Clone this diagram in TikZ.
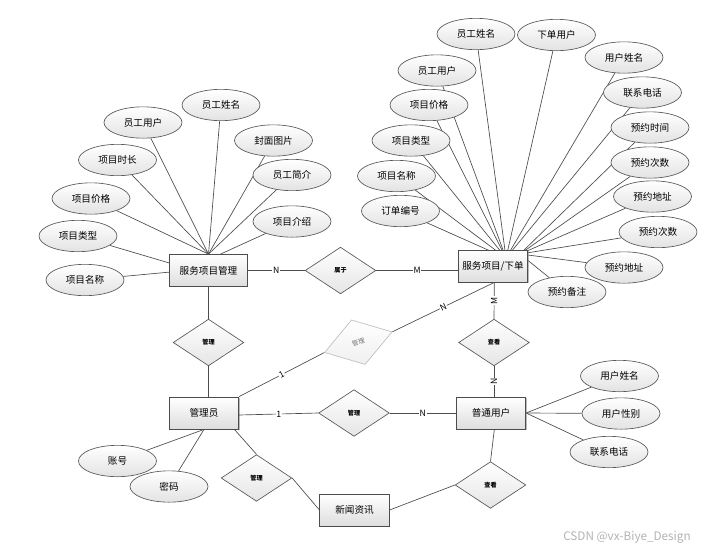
\documentclass[tikz,border=0pt]{standalone}
\usepackage{fontspec}
\setmainfont{Noto Sans CJK SC}
\usepackage{tikz}
\usetikzlibrary{shapes.geometric}
\usetikzlibrary{shadows}
\usetikzlibrary{backgrounds}
\tikzset{>=latex}
\tikzset{
    ent/.style={rectangle,draw=black!70,line width=0.6pt,top color=white,
    bottom color=black!13,minimum width=52pt,minimum height=24pt,inner sep=1pt,
    font=\fontsize{7.2}{8}\selectfont,
    drop shadow={shadow xshift=0.7pt,shadow yshift=-0.7pt,fill=black!45,opacity=0.6}},
    attr/.style={ellipse,draw=black!65,line width=0.5pt,top color=white,
    bottom color=black!11,minimum width=58.5pt,minimum height=23.5pt,inner sep=0pt,
    font=\fontsize{7.2}{8}\selectfont},
    rel/.style={diamond,draw=black!65,line width=0.5pt,top color=white,
    bottom color=black!10,minimum width=53pt,minimum height=35pt,inner sep=0pt,
    font=\fontsize{4.6}{5}\selectfont\bfseries},
    card/.style={fill=white,inner sep=0.5pt,font=\fontsize{6.5}{6.5}\selectfont},
    link/.style={draw=black!70,line width=0.5pt}
}

\begin{document}
\begin{tikzpicture}[x=0.75pt,y=-0.75pt]
    \useasboundingbox (0,0) rectangle (706,550);

    \coordinate (svc0) at (208.5, 270.5);
    \coordinate (ord0) at (493, 266);
    \coordinate (adm0) at (204, 413);
    \coordinate (usr0) at (491, 413);
    \coordinate (news0) at (354.5, 510);

    \node [ent,minimum width=58pt] (svc) at (svc0) {服务项目管理};
    \node [ent] (ord) at (ord0) {服务项目/下单};
    \node [ent] (adm) at (adm0) {管理员};
    \node [ent] (usr) at (usr0) {普通用户};
    \node [ent] (news) at (news0) {新闻资讯};

    \node [rel] (belong) at (340.5, 270.5) {属于};
    \node [rel] (svcadm) at (208.5, 342.5) {管理};
    \node [rel,draw=black!25,bottom color=black!6,text=black!55,
    font=\fontsize{4.8}{5}\selectfont,rotate=17] (ordadm) at (358.3, 342.2) {管理};
    \node [rel] (usradm) at (354, 413) {管理};
    \node [rel] (ordusr) at (494, 342.5) {查看};
    \node [rel] (newsadm) at (256.5, 478) {管理};
    \node [rel] (newsusr) at (490.5, 485) {查看};

    \node [attr] (sa1) at (221, 105) {员工姓名};
    \node [attr] (sa2) at (143, 122.5) {员工用户};
    \node [attr] (sa3) at (273.5, 140.5) {封面图片};
    \node [attr] (sa4) at (117.5, 160) {项目时长};
    \node [attr] (sa5) at (292, 175) {员工简介};
    \node [attr] (sa6) at (91, 198.5) {项目价格};
    \node [attr] (sa7) at (292, 221.5) {项目介绍};
    \node [attr] (sa8) at (78, 236) {项目类型};
    \node [attr] (sa9) at (85, 280) {项目名称};

    \node [attr] (oa1) at (476, 34) {员工姓名};
    \node [attr] (oa2) at (556.5, 35) {下单用户};
    \node [attr] (oa3) at (437, 70.5) {员工用户};
    \node [attr] (oa4) at (624, 57.5) {用户姓名};
    \node [attr] (oa5) at (429, 105) {项目价格};
    \node [attr] (oa6) at (642.5, 92.5) {联系电话};
    \node [attr] (oa7) at (411, 140.5) {项目类型};
    \node [attr] (oa8) at (650, 127.5) {预约时间};
    \node [attr] (oa9) at (396.5, 176) {项目名称};
    \node [attr] (oa10) at (650, 162.5) {预约次数};
    \node [attr] (oa11) at (400.5, 211) {订单编号};
    \node [attr] (oa12) at (652.5, 196.5) {预约地址};
    \node [attr] (oa13) at (658, 232) {预约次数};
    \node [attr] (oa14) at (624, 267.5) {预约地址};
    \node [attr] (oa15) at (567, 292) {预约备注};

    \node [attr] (aa1) at (117.5, 461) {账号};
    \node [attr] (aa2) at (169, 486.5) {密码};

    \node [attr] (ua1) at (619.5, 376) {用户姓名};
    \node [attr] (ua2) at (621, 413.5) {用户性别};
    \node [attr] (ua3) at (609, 452) {联系电话};

    \coordinate (ordhub) at (506, 258);
    \coordinate (ordhubr) at (520, 254);

    \begin{pgfonlayer}{background}
    \foreach \a in {sa1,sa2,sa3,sa4,sa5,sa6}
        \draw [link] (\a) -- (svc.north);
    \draw [link] (sa7) -- ([xshift=9pt]svc.north);
    \draw [link] (sa8) -- ([yshift=5.6pt]svc.west);
    \draw [link] (sa9) -- ([yshift=-1.2pt]svc.west);

    \foreach \a in {oa1,oa2,oa3,oa4,oa5,oa6,oa7,oa9,oa11}
        \draw [link] (\a) -- (ordhub);
    \foreach \a in {oa8,oa10,oa12,oa13,oa14,oa15}
        \draw [link] (\a) -- (ordhubr);

    \draw [link] (aa1) -- (adm.south);
    \draw [link] (aa2) -- (adm.south);

    \foreach \a in {ua1,ua2,ua3}
        \draw [link] (\a) -- (usr.east);
    \end{pgfonlayer}

    \draw [link] (svc.east) -- node [card] {N} (belong.west);
    \draw [link] (belong.east) -- node [card] {M} (belong.east -| ord.west);
    \draw [link] (svc.south) -- (svcadm.north);
    \draw [link] (svcadm.south) -- (adm.north -| svcadm.south);
    \draw [link] (adm.north east) -- node [card,sloped] {1} (ordadm.west);
    \draw [link] (ordadm.east) -- node [card,sloped] {N} ([xshift=1pt]ord.south);
    \draw [link] ([xshift=1pt]ord.south) -- node [card,rotate=90] {M} (ordusr.north);
    \draw [link] (ordusr.south) -- node [card,rotate=90] {N} (ordusr.south |- usr.north);
    \draw [link] ([yshift=-1.5pt]adm.east) -- node [card] {1} (usradm.west);
    \draw [link] (usradm.east) -- node [card] {N} (usr.west);
    \draw [link] ([xshift=-3.5pt]adm.south east) -- (newsadm.north);
    \draw [link] (newsadm.east) -- (news.west);
    \draw [link] ([xshift=2.5pt]usr.south) -- (newsusr.north);
    \draw [link] (newsusr.west) -- (news.east);

    \node [text=black!30,font=\fontsize{8.8}{9}\selectfont] (mark) at (627, 537)
    {CSDN @vx-Biye\_Design};
\end{tikzpicture}
\end{document}
